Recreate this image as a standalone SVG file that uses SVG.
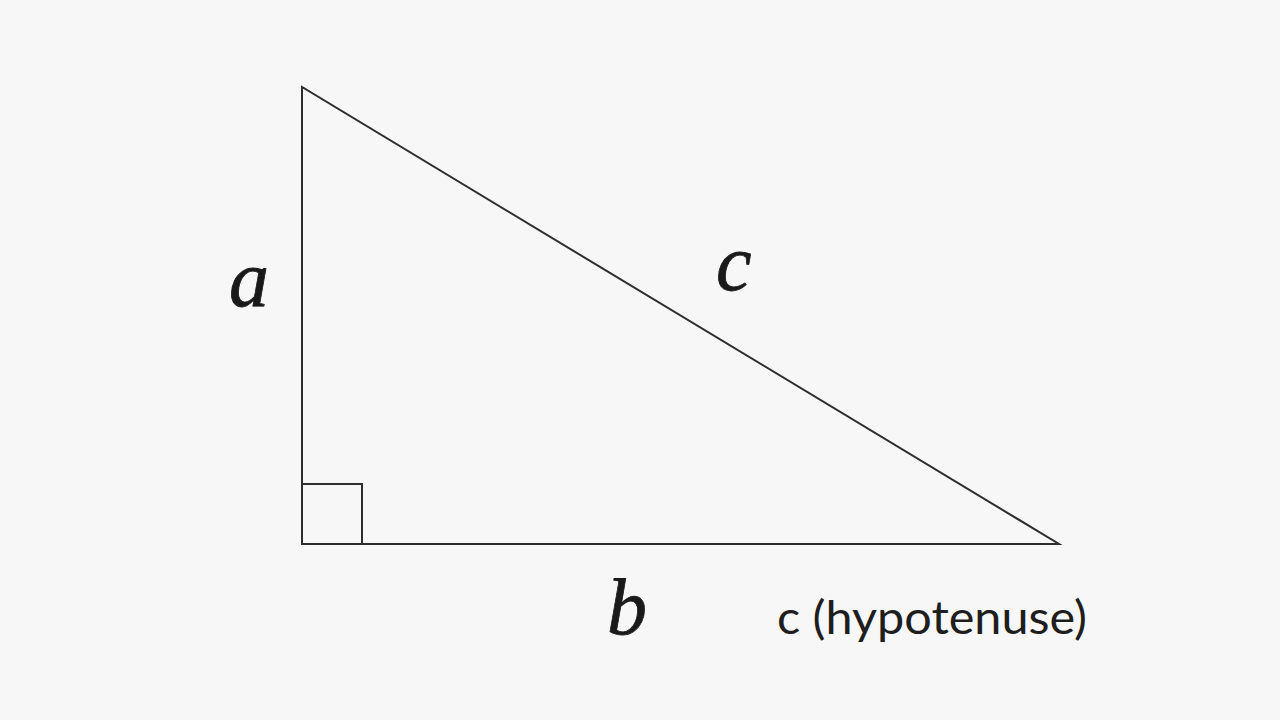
<svg xmlns="http://www.w3.org/2000/svg" width="1280" height="720" viewBox="0 0 1280 720">
<style>
.ln{fill:none;stroke:#2e2e2e;stroke-width:2;stroke-linejoin:miter}
.var{font-family:"Liberation Serif","DejaVu Serif",serif;font-style:italic;font-size:80px;fill:#1a1a1a;stroke:#1a1a1a;stroke-width:0.8}
.lbl{font-family:"Lato","Liberation Sans",sans-serif;font-size:47px;fill:#1e1e1e}
</style>
<rect width="1280" height="720" fill="#f7f7f7"/>
<g id="triangle">
<polygon class="ln" points="302,87 302,544 1059,544"/>
<rect class="ln" x="302" y="484" width="60" height="60"/>
</g>
<g id="labels">
<text class="var" x="229" y="306">a</text>
<text class="var" x="716" y="290">c</text>
<text class="var" x="607" y="634">b</text>
<text class="lbl" x="777" y="634" textLength="310" lengthAdjust="spacingAndGlyphs">c (hypotenuse)</text>
</g>
</svg>
